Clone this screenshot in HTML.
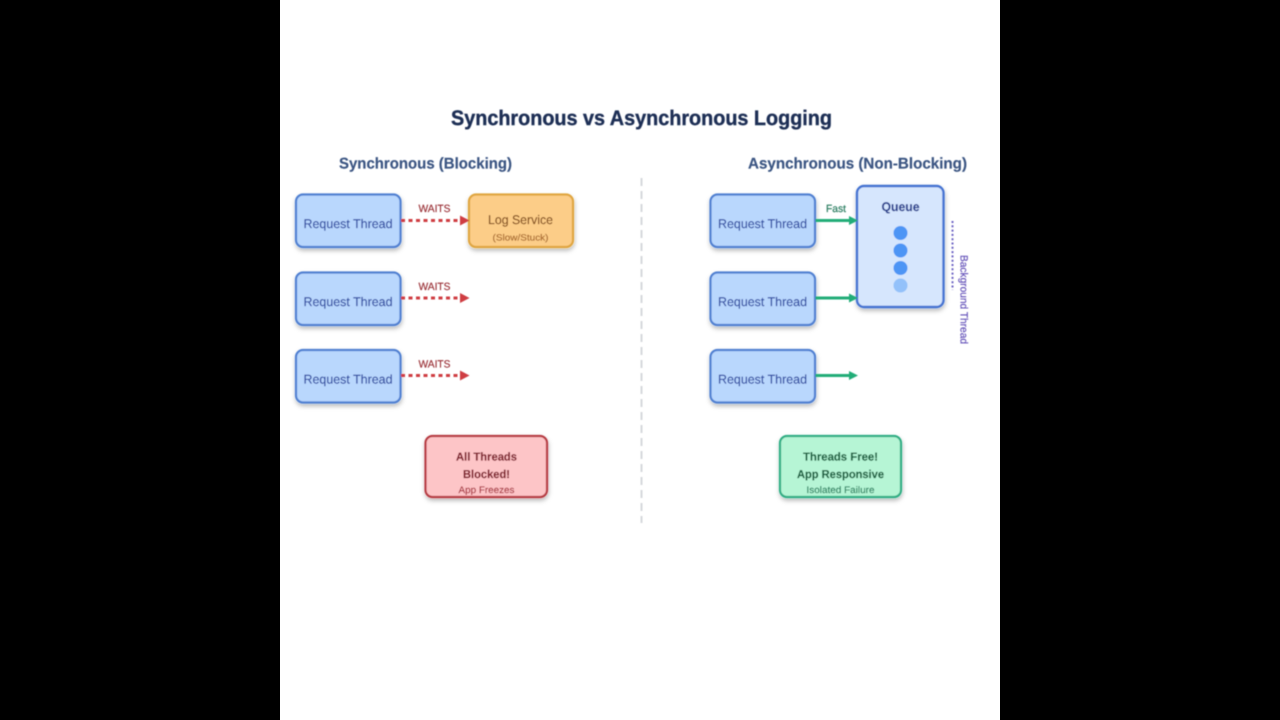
<!DOCTYPE html>
<html>
<head>
<meta charset="utf-8">
<style>
html,body{margin:0;padding:0;background:#000;width:1280px;height:720px;overflow:hidden}
svg{display:block;position:absolute;left:0;top:0}
text{font-family:"Liberation Sans",sans-serif;text-anchor:middle;text-rendering:geometricPrecision;stroke:currentColor;stroke-width:.18px}
</style>
</head>
<body>
<svg width="1280" height="720" viewBox="0 0 1280 720" xmlns="http://www.w3.org/2000/svg">
<defs>
<filter id="s" x="-20%" y="-20%" width="140%" height="150%"><feDropShadow dx="0.500" dy="2.500" stdDeviation="2.500" flood-color="#000" flood-opacity=".28"/></filter>
<filter id="b" x="-5%" y="-5%" width="110%" height="110%"><feGaussianBlur stdDeviation="0.55"/></filter>
</defs>
<rect x="280" y="0" width="720" height="720" fill="#fff"/>
<g filter="url(#b)">
<text x="641.5" y="125" font-size="21" font-weight="700" fill="#1e2f55" color="#1e2f55" style="stroke-width:.4px" textLength="381" lengthAdjust="spacingAndGlyphs">Synchronous vs Asynchronous Logging</text>
<text x="425.5" y="168.5" font-size="15.500" font-weight="700" fill="#3a5482" color="#3a5482" textLength="173" lengthAdjust="spacingAndGlyphs">Synchronous (Blocking)</text>
<text x="857.5" y="168.5" font-size="15.500" font-weight="700" fill="#3a5482" color="#3a5482" textLength="219" lengthAdjust="spacingAndGlyphs">Asynchronous (Non-Blocking)</text>
<line x1="641.5" y1="178" x2="641.5" y2="523" stroke="#d6d8dc" stroke-width="2" stroke-dasharray="8 5"/>

<g fill="#b9d7fd" stroke="#4f80d2" stroke-width="2.200" filter="url(#s)">
<rect x="296" y="194.500" width="104.500" height="52.500" rx="7"/>
<rect x="296" y="272.500" width="104.500" height="52.500" rx="7"/>
<rect x="296" y="350" width="104.500" height="52.500" rx="7"/>
<rect x="710.500" y="194.500" width="104.500" height="52.500" rx="7"/>
<rect x="710.500" y="272.500" width="104.500" height="52.500" rx="7"/>
<rect x="710.500" y="350" width="104.500" height="52.500" rx="7"/>
</g>
<g font-size="12.500" fill="#2f4da3" color="#2f4da3">
<text x="348" y="228" textLength="89" lengthAdjust="spacingAndGlyphs">Request Thread</text>
<text x="348" y="306" textLength="89" lengthAdjust="spacingAndGlyphs">Request Thread</text>
<text x="348" y="383.500" textLength="89" lengthAdjust="spacingAndGlyphs">Request Thread</text>
<text x="762.500" y="228" textLength="89" lengthAdjust="spacingAndGlyphs">Request Thread</text>
<text x="762.500" y="306" textLength="89" lengthAdjust="spacingAndGlyphs">Request Thread</text>
<text x="762.500" y="383.500" textLength="89" lengthAdjust="spacingAndGlyphs">Request Thread</text>
</g>

<rect x="469" y="194.500" width="104" height="52.500" rx="7" fill="#fccd88" stroke="#e0a63f" stroke-width="2.200" filter="url(#s)"/>
<text x="520.500" y="224" font-size="12.500" fill="#85501c" color="#85501c" textLength="65" lengthAdjust="spacingAndGlyphs">Log Service</text>
<text x="520.500" y="240.500" font-size="9" fill="#a8682a" color="#a8682a" textLength="56" lengthAdjust="spacingAndGlyphs">(Slow/Stuck)</text>

<g stroke="#cf3d43" stroke-width="3" stroke-dasharray="4 3.500">
<line x1="401" y1="220.500" x2="461" y2="220.500"/>
<line x1="401" y1="298" x2="461" y2="298"/>
<line x1="401" y1="375.500" x2="461" y2="375.500"/>
</g>
<g fill="#cf3d43">
<path d="M460 215.500 L469.500 220.500 L460 225.500Z"/>
<path d="M460 293 L469.500 298 L460 303Z"/>
<path d="M460 370.500 L469.500 375.500 L460 380.500Z"/>
</g>
<g font-size="10.500" fill="#992f35" color="#992f35">
<text x="434.500" y="212" textLength="32" lengthAdjust="spacingAndGlyphs">WAITS</text>
<text x="434.500" y="290" textLength="32" lengthAdjust="spacingAndGlyphs">WAITS</text>
<text x="434.500" y="367.500" textLength="32" lengthAdjust="spacingAndGlyphs">WAITS</text>
</g>

<rect x="857" y="186" width="86.500" height="121" rx="7" fill="#d6e6fd" stroke="#4573d2" stroke-width="2.400" filter="url(#s)"/>
<text x="900.500" y="211" font-size="12.500" font-weight="700" fill="#27408f" color="#27408f" textLength="38" lengthAdjust="spacingAndGlyphs">Queue</text>
<circle cx="900.500" cy="233" r="7" fill="#4e95f5"/>
<circle cx="900.500" cy="250.500" r="7" fill="#4e95f5"/>
<circle cx="900.500" cy="268" r="7" fill="#4e95f5"/>
<circle cx="900.500" cy="285.500" r="7" fill="#93c1fa"/>

<g stroke="#22ad78" stroke-width="3">
<line x1="815.500" y1="220.500" x2="850" y2="220.500"/>
<line x1="815.500" y1="298" x2="850" y2="298"/>
<line x1="815.500" y1="375.500" x2="850" y2="375.500"/>
</g>
<g fill="#22ad78">
<path d="M849 216 L858 220.500 L849 225Z"/>
<path d="M849 293.500 L858 298 L849 302.500Z"/>
<path d="M849 371 L858 375.500 L849 380Z"/>
</g>
<text x="836" y="212" font-size="10.500" fill="#277a5d" color="#277a5d" textLength="20" lengthAdjust="spacingAndGlyphs">Fast</text>

<line x1="952.500" y1="221" x2="952.500" y2="290" stroke="#6d63c4" stroke-width="2" stroke-dasharray="2 2.300"/>
<text transform="translate(960.500,299.500) rotate(90)" x="0" y="0" font-size="10.500" fill="#6250b8" color="#6250b8" textLength="89" lengthAdjust="spacingAndGlyphs">Background Thread</text>

<rect x="425.500" y="436" width="121.500" height="61" rx="7" fill="#fdc5c7" stroke="#b73a42" stroke-width="2.200" filter="url(#s)"/>
<text x="486.500" y="460.500" font-size="11.500" font-weight="700" fill="#7f1d2a" color="#7f1d2a" textLength="61" lengthAdjust="spacingAndGlyphs">All Threads</text>
<text x="486.500" y="478" font-size="11.500" font-weight="700" fill="#7f1d2a" color="#7f1d2a" textLength="47" lengthAdjust="spacingAndGlyphs">Blocked!</text>
<text x="486.500" y="493" font-size="9.500" fill="#a8323e" color="#a8323e" textLength="56" lengthAdjust="spacingAndGlyphs">App Freezes</text>

<rect x="780" y="436" width="121" height="61" rx="7" fill="#b6f5d5" stroke="#2fae84" stroke-width="2.200" filter="url(#s)"/>
<text x="840.500" y="460.500" font-size="11.500" font-weight="700" fill="#14603f" color="#14603f" textLength="75" lengthAdjust="spacingAndGlyphs">Threads Free!</text>
<text x="840.500" y="478" font-size="11.500" font-weight="700" fill="#14603f" color="#14603f" textLength="87" lengthAdjust="spacingAndGlyphs">App Responsive</text>
<text x="840.500" y="493" font-size="9.500" fill="#26805f" color="#26805f" textLength="68" lengthAdjust="spacingAndGlyphs">Isolated Failure</text>
</g>
</svg>
</body>
</html>
